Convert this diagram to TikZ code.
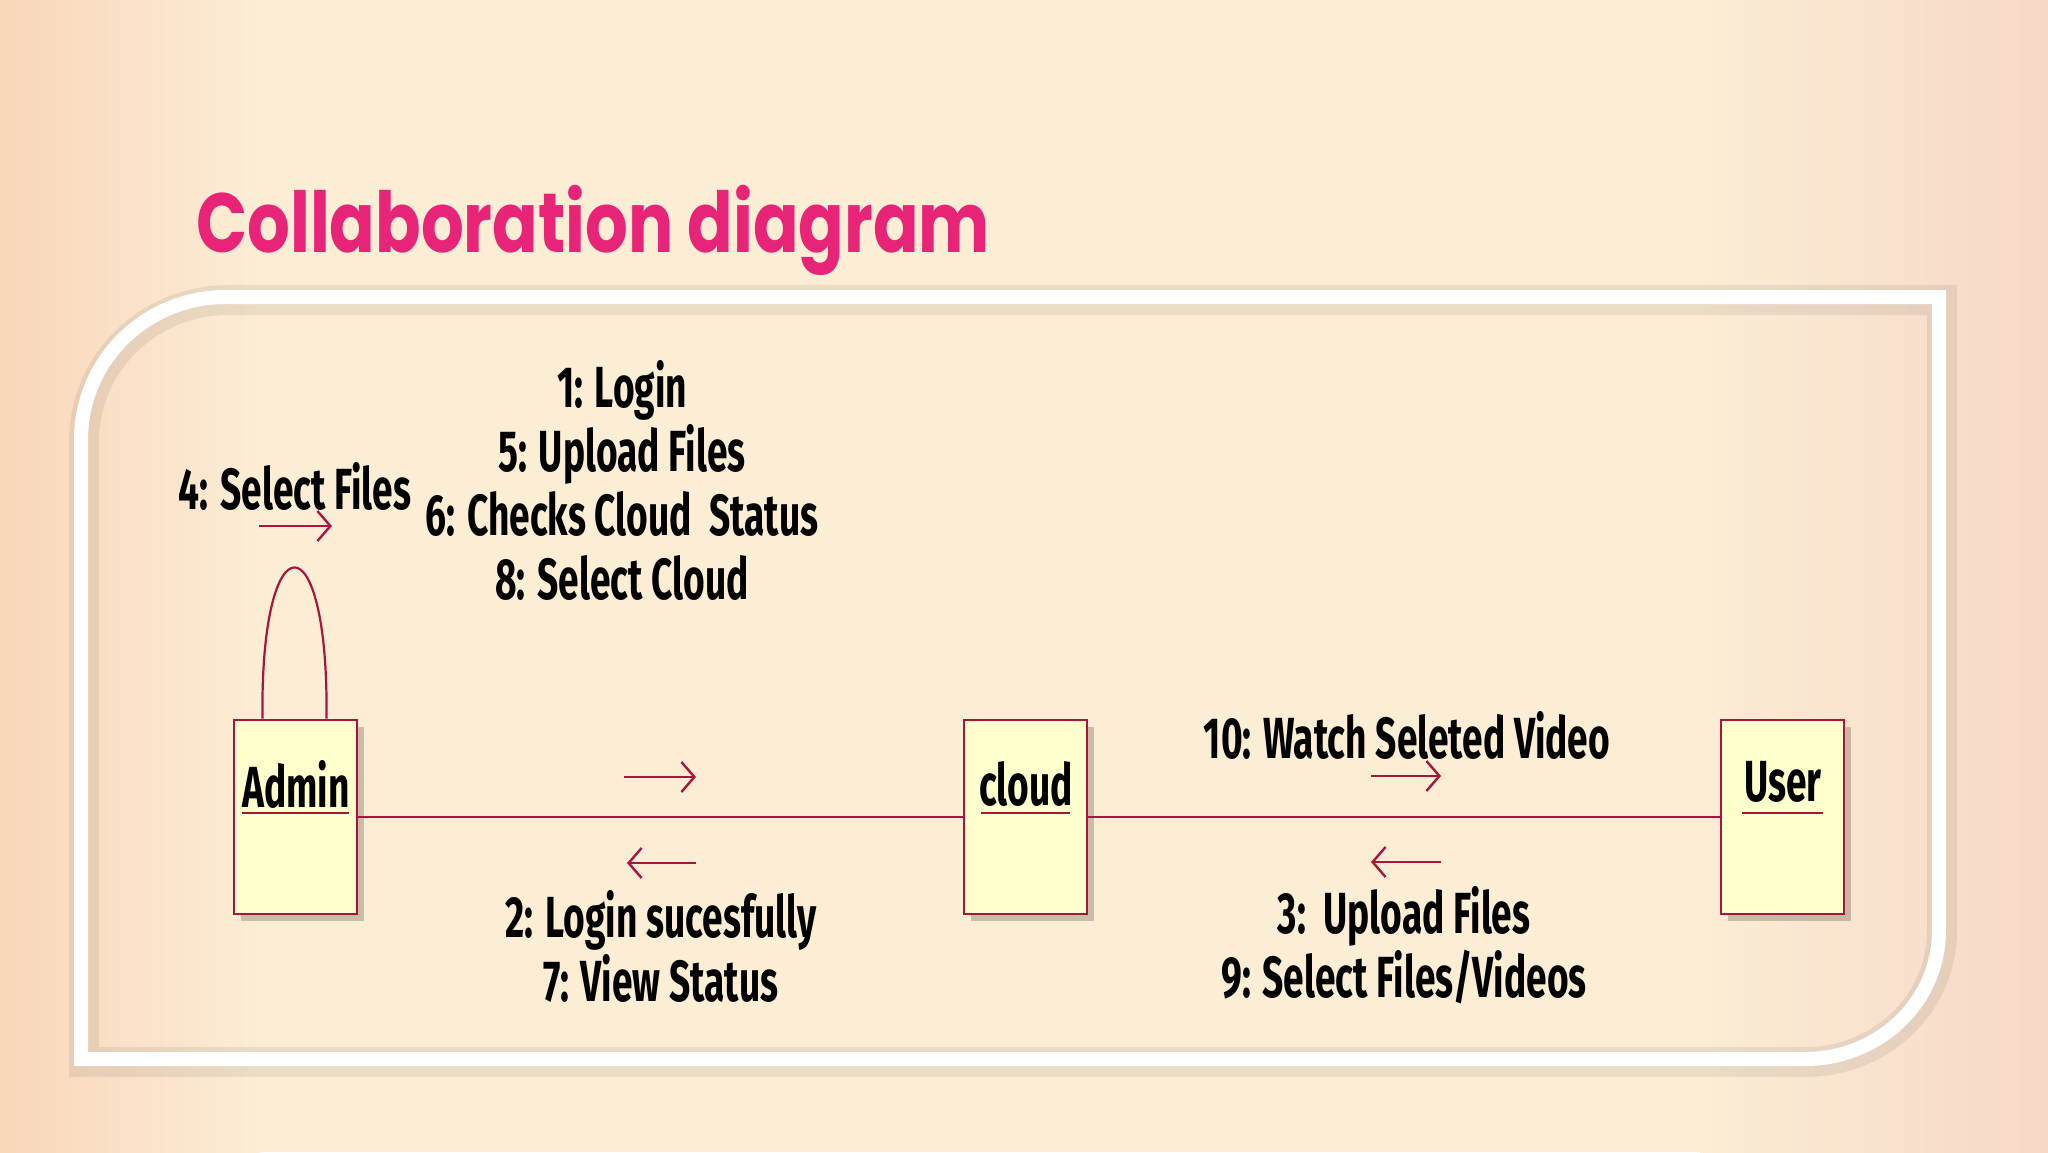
\documentclass[tikz,border=0pt]{standalone}
\usepackage{fontspec}
\setmainfont{Fira Sans}
\newfontfamily\diagfont[FakeStretch=0.64]{Fira Sans}
\newfontfamily\titlefont[FakeStretch=0.8]{Poppins}
\usetikzlibrary{arrows.meta,calc,shadows}
\definecolor{bgmid}{RGB}{252,237,213}
\definecolor{bgleft}{RGB}{249,214,186}
\definecolor{bgright}{RGB}{246,216,198}
\definecolor{umlred}{RGB}{168,22,62}
\definecolor{boxfill}{RGB}{255,255,206}
\definecolor{titlepink}{RGB}{232,36,120}
\begin{document}
\begin{tikzpicture}[x=1pt,y=-1pt,
  objbox/.style={draw=umlred,line width=2.6pt,fill=boxfill,minimum width=123pt,minimum height=194pt,inner sep=0pt,
    drop shadow={shadow xshift=7pt,shadow yshift=-7pt,opacity=0.2,fill=black}},
  objname/.style={font=\diagfont\bfseries\fontsize{58}{64}\selectfont,inner sep=0pt},
  msg/.style={font=\diagfont\bfseries\fontsize{58}{64}\selectfont,align=center,inner sep=0pt},
  link/.style={draw=umlred,line width=2.2pt},
  msgarrow/.style={draw=umlred,line width=2.4pt,-{Straight Barb[length=13pt,width=30pt,line width=2.4pt]}},
  frame/.style={draw=white,line width=14pt,line join=miter}
]
\useasboundingbox (0,0) rectangle (2048,1152);
\fill[bgmid] (0,0) rectangle (2048,1152);
\shade[left color=bgleft,right color=bgmid] (0,0) rectangle (260,1152);
\shade[left color=bgmid,right color=bgright] (1700,0) rectangle (2048,1152);

% title
\node[anchor=base west,inner sep=0pt,text=titlepink,font=\titlefont\bfseries\fontsize{84}{90}\selectfont] (title) at (196,252) {Collaboration diagram};

% frame shadow and frame
\draw[draw=black,opacity=0.07,line width=30pt] (84,1062) -- (84,442) .. controls (84,362) and (149,300) .. (229,300) -- (1942,300) -- (1942,930) .. controls (1942,1005) and (1880,1062) .. (1805,1062) -- cycle;
\draw[frame] (81,1059) -- (81,440) .. controls (81,360) and (146,297) .. (226,297) -- (1939,297) -- (1939,930) .. controls (1939,1003) and (1878,1059) .. (1805,1059) -- cycle;

% objects
\node[objbox] (admin) at (295.5,817) {};
\node[objbox] (cloud) at (1025.5,817) {};
\node[objbox] (user) at (1782.5,817) {};
\node[objname] (adminname) at (296,784) {Admin};
\node[objname] (cloudname) at (1026,784) {cloud};
\node[objname] (username) at (1783,782) {User};
\draw[link] ($(admin.north west)+(9,94)$) -- ($(admin.north east)+(-9,94)$);
\draw[link] ($(cloud.north west)+(18,94)$) -- ($(cloud.north east)+(-18,94)$);
\draw[link] ($(user.north west)+(22,94)$) -- ($(user.north east)+(-22,94)$);

% links
\draw[link] (admin) -- (cloud);
\draw[link] (cloud) -- (user);
\draw[link] ($(admin.north)+(-33,0)$) .. controls (260,517) and (329,517) .. ($(admin.north)+(31,0)$);

% message arrows
\coordinate (a4s) at (259,526); \coordinate (a4e) at (332,526);
\coordinate (a1s) at (624,777); \coordinate (a1e) at (696,777);
\coordinate (a2s) at (696,863); \coordinate (a2e) at (627,863);
\coordinate (a10s) at (1371,776); \coordinate (a10e) at (1441,776);
\coordinate (a3s) at (1441,862); \coordinate (a3e) at (1371,862);
\draw[msgarrow] (a4s) -- (a4e);
\draw[msgarrow] (a1s) -- (a1e);
\draw[msgarrow] (a2s) -- (a2e);
\draw[msgarrow] (a10s) -- (a10e);
\draw[msgarrow] (a3s) -- (a3e);

% message labels
\node[msg] (m4) at (295,486) {4: Select Files};
\node[msg] (m1) at (622,480) {1: Login\\5: Upload Files\\6: Checks Cloud\ \ Status\\8: Select Cloud};
\node[msg] (m2) at (661,946) {2: Login sucesfully\\7: View Status};
\node[msg] (m10) at (1407,735) {10: Watch Seleted Video};
\node[msg] (m3) at (1404,945) {3:\ \ Upload Files\\9: Select Files/Videos};
\end{tikzpicture}
\end{document}
